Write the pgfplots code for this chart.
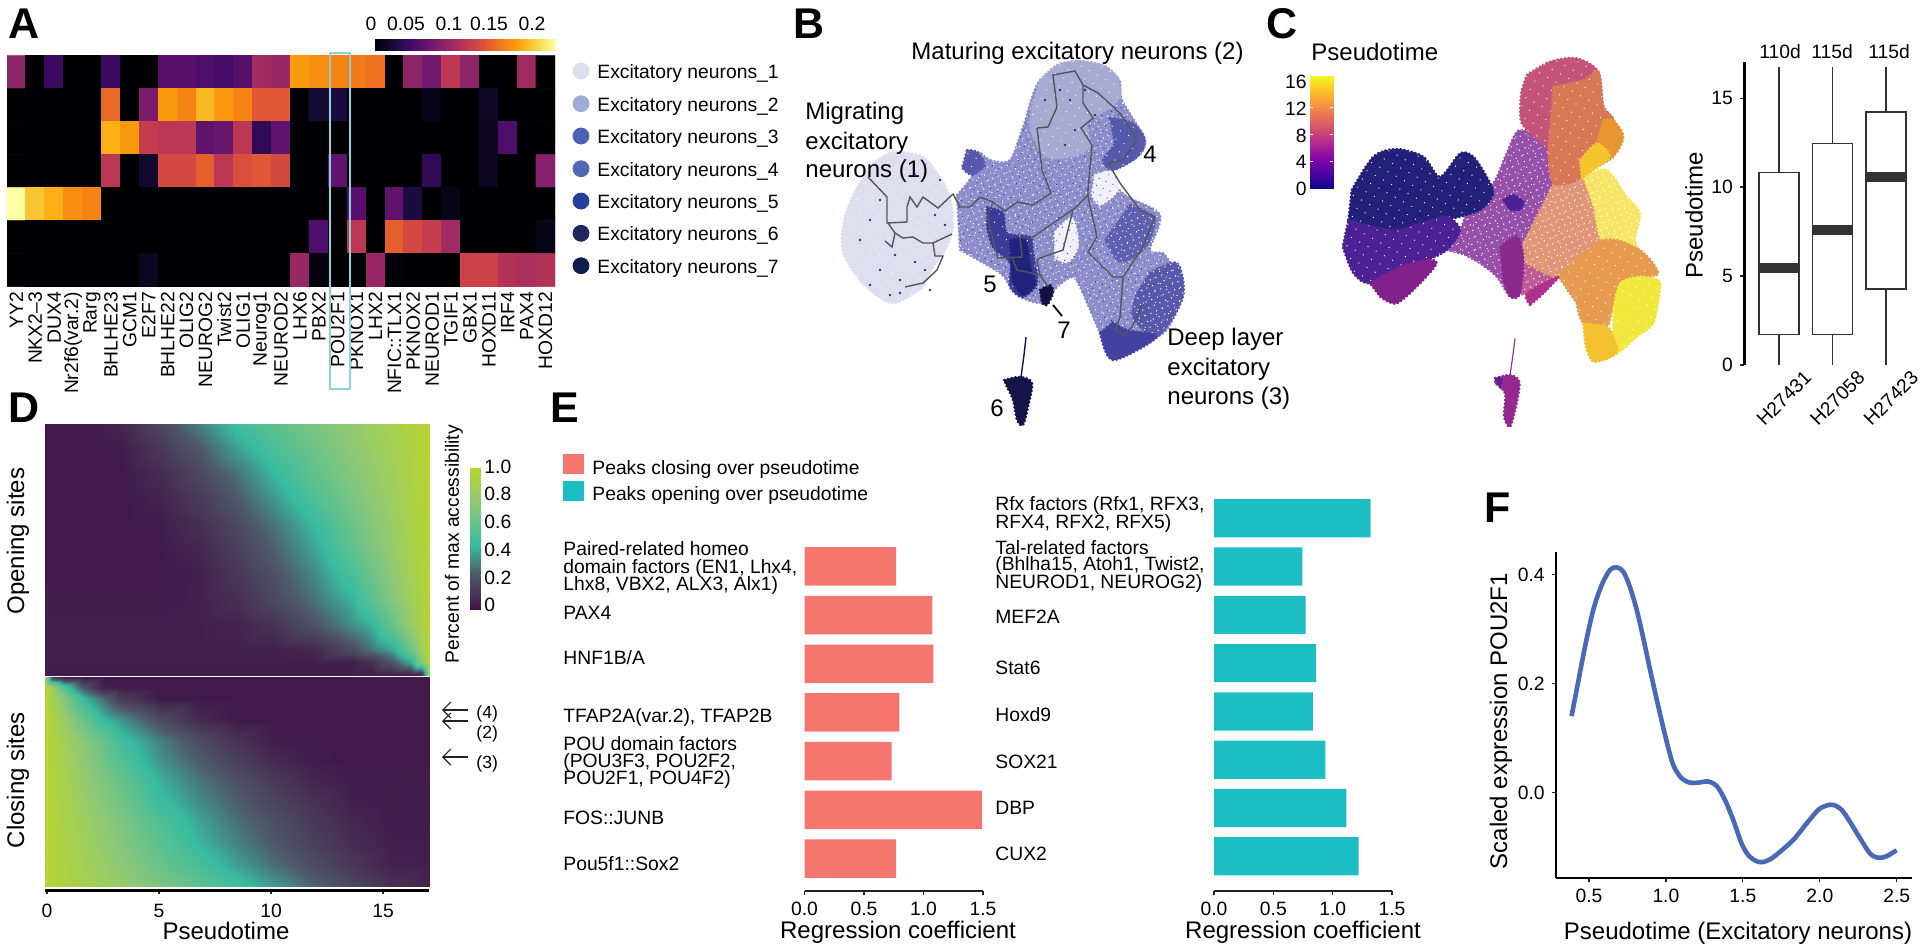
\documentclass[border=0pt]{standalone}
\usepackage{fontspec}
\setmainfont{Liberation Sans}
\usepackage{pgfplots}
\pgfplotsset{compat=1.18}
\usepgfplotslibrary{statistics}
\usetikzlibrary{arrows.meta,patterns.meta}
% 1 px of the reference = 0.5pt
\newcommand{\fS}{\fontsize{9.65}{8.5}\selectfont}
\newcommand{\fL}{\fontsize{12}{14.5}\selectfont}
\newcommand{\fP}{\fontsize{21.5}{21.5}\selectfont\bfseries}
\definecolor{salmon}{HTML}{F4766E}
\definecolor{tealb}{HTML}{1CBEC3}
\definecolor{traj}{HTML}{55555F}
\definecolor{axc}{HTML}{222222}
\definecolor{boxc}{HTML}{333333}
\definecolor{dotb}{HTML}{32328C}
\pgfplotsset{
  colormap={inferno}{rgb255=(0,0,4) rgb255=(22,11,57) rgb255=(66,10,104) rgb255=(106,23,110) rgb255=(147,38,103) rgb255=(188,55,84) rgb255=(221,81,58) rgb255=(243,120,25) rgb255=(252,165,10) rgb255=(246,215,70) rgb255=(252,255,164)},
  colormap={plasma}{rgb255=(13,8,135) rgb255=(65,4,157) rgb255=(106,0,168) rgb255=(143,13,164) rgb255=(177,42,144) rgb255=(204,71,120) rgb255=(225,100,98) rgb255=(241,132,75) rgb255=(252,166,54) rgb255=(252,206,37) rgb255=(240,249,33)},
  colormap={access}{rgb255(0)=(62,20,70) rgb255(10)=(72,50,85) rgb255(25)=(78,90,105) rgb255(45)=(56,187,160) rgb255(75)=(140,200,120) rgb255(100)=(183,212,50)},
  pageaxis/.style={at={(0,0)},anchor=south west,scale only axis,width=960pt,height=475pt,hide axis,clip=false,y dir=reverse},
  box/.style n args={4}{at={(#1*0.5pt,{(950-#4)*0.5pt})},anchor=south west,scale only axis,width={(#3-#1)*0.5pt},height={(#4-#2)*0.5pt}},
  blob/.style={draw={#1},line width=1.2pt,line cap=round,dash pattern=on .4pt off 1.5pt,fill={#1},forget plot,smooth,tension=0.5},
  sw/.style={postaction={draw=none,pattern={Dots[distance=3.1pt,radius=.38pt,angle=23]},pattern color=white},
             postaction={draw=none,pattern={Dots[distance=4.3pt,radius=.32pt,angle=49]},pattern color=white}},
  sl/.style={postaction={draw=none,pattern={Dots[distance=4.7pt,radius=.34pt,angle=61]},pattern color=white}},
  sd/.style={postaction={draw=none,pattern={Dots[distance=3.7pt,radius=.3pt,angle=67]},pattern color=dotb}},
  every tick label/.append style={font=\fS},
  /pgf/number format/assume math mode=true,
}
\newcommand{\T}[4][]{\node[anchor=mid west,inner sep=0pt,yshift=-1.2pt,#1] at (axis cs:#2,#3) {#4};}
\begin{document}
\begin{tikzpicture}
\useasboundingbox (0,0) rectangle (960pt,475pt);

% A heatmap
\begin{axis}[box={7}{55.7}{555}{286.7},colormap name=inferno,point meta min=0,point meta max=0.22,
  y dir=reverse,xmin=-0.5,xmax=28.5,ymin=-0.5,ymax=6.5,ytick=\empty,axis line style={draw=none},
  xtick={0,...,28},major tick length=0pt,xticklabel pos=lower,
  xticklabels={YY2,NKX2–3,DUX4,Nr2f6(var.2),Rarg,BHLHE23,GCM1,E2F7,BHLHE22,OLIG2,NEUROG2,Twist2,OLIG1,Neurog1,NEUROD2,LHX6,PBX2,POU2F1,PKNOX1,LHX2,NFIC::TLX1,PKNOX2,NEUROD1,TGIF1,GBX1,HOXD11,IRF4,PAX4,HOXD12},
  xticklabel style={yshift=-2.5pt,rotate=90,anchor=east,inner sep=0pt,font=\fS}]
\addplot[matrix plot*,mesh/cols=29,point meta=explicit] table[row sep=\\,header=false,x expr={mod(\coordindex,29)},y expr={floor((\coordindex+0.5)/29)},meta index=0]{
.085\\0\\.04\\0\\0\\.04\\0\\0\\.055\\.055\\.05\\.045\\.055\\.095\\.09\\.17\\.165\\.16\\.155\\.15\\0\\.085\\.07\\.11\\.085\\0\\0\\.095\\0\\
0\\0\\0\\0\\0\\.145\\0\\.075\\.17\\.16\\.185\\.17\\.16\\.135\\.135\\0\\.02\\.025\\0\\0\\0\\0\\.008\\0\\0\\.015\\0\\0\\0\\
0\\0\\0\\0\\0\\.18\\.17\\.115\\.11\\.11\\.06\\.065\\.11\\.035\\.06\\0\\0\\0\\0\\0\\0\\0\\0\\0\\0\\.012\\.05\\0\\0\\
0\\0\\0\\0\\0\\.11\\0\\.018\\.125\\.125\\.14\\.11\\.13\\.135\\.125\\0\\0\\.06\\0\\0\\0\\0\\.035\\0\\0\\.012\\0\\0\\.08\\
.22\\.19\\.18\\.165\\.16\\0\\0\\0\\0\\0\\0\\0\\0\\0\\0\\0\\0\\0\\.055\\0\\.06\\.025\\0\\.008\\0\\0\\0\\0\\0\\
0\\0\\0\\0\\0\\0\\0\\0\\0\\0\\0\\0\\0\\0\\0\\0\\.05\\0\\.11\\0\\.14\\.125\\.115\\.095\\0\\0\\0\\0\\.008\\
0\\0\\0\\0\\0\\0\\0\\.012\\0\\0\\0\\0\\0\\0\\0\\.09\\.005\\0\\0\\.09\\.002\\0\\0\\0\\.12\\.12\\.105\\.1\\.105\\
};
\end{axis}
% A colour bar
\begin{axis}[box={375}{39}{555}{50.7},hide axis,colormap name=inferno,xmin=0,xmax=0.22,ymin=0,ymax=1]
\addplot[surf,shader=interp,mesh/cols=2,point meta=explicit] coordinates {(0,0)[0] (0.22,0)[0.22] (0,1)[0] (0.22,1)[0.22]};
\end{axis}

% D opening sites
\begin{axis}[box={45}{424}{429}{675},hide axis,colormap name=access,point meta min=0,point meta max=1,xmin=0,xmax=17,ymin=0,ymax=1,y dir=reverse]
\addplot[surf,shader=interp,mesh/cols=14,point meta=explicit] coordinates {
(0,0)[.02] (1.7,0)[.02] (3.4,0)[.06] (5.1,0)[.18] (6.8,0)[.33] (8.5,0)[.48] (10.2,0)[.585] (11.9,0)[.69] (13.6,0)[.79] (14.45,0)[.845] (15.3,0)[.90] (16.15,0)[.95] (16.66,0)[.98] (17,0)[1]
(0,.1)[.02] (1.7,.1)[.02] (3.4,.1)[.03] (5.1,.1)[.12] (6.8,.1)[.24] (8.5,.1)[.39] (10.2,.1)[.52] (11.9,.1)[.64] (13.6,.1)[.76] (14.45,.1)[.82] (15.3,.1)[.88] (16.15,.1)[.94] (16.66,.1)[.98] (17,.1)[1]
(0,.2)[.02] (1.7,.2)[.02] (3.4,.2)[.02] (5.1,.2)[.075] (6.8,.2)[.18] (8.5,.2)[.30] (10.2,.2)[.45] (11.9,.2)[.59] (13.6,.2)[.725] (14.45,.2)[.79] (15.3,.2)[.86] (16.15,.2)[.93] (16.66,.2)[.97] (17,.2)[1]
(0,.3)[.02] (1.7,.3)[.02] (3.4,.3)[.02] (5.1,.3)[.05] (6.8,.3)[.13] (8.5,.3)[.245] (10.2,.3)[.38] (11.9,.3)[.53] (13.6,.3)[.685] (14.45,.3)[.76] (15.3,.3)[.84] (16.15,.3)[.92] (16.66,.3)[.97] (17,.3)[1]
(0,.4)[.02] (1.7,.4)[.02] (3.4,.4)[.02] (5.1,.4)[.03] (6.8,.4)[.09] (8.5,.4)[.19] (10.2,.4)[.31] (11.9,.4)[.45] (13.6,.4)[.63] (14.45,.4)[.725] (15.3,.4)[.82] (16.15,.4)[.91] (16.66,.4)[.96] (17,.4)[1]
(0,.5)[.02] (1.7,.5)[.02] (3.4,.5)[.02] (5.1,.5)[.025] (6.8,.5)[.06] (8.5,.5)[.15] (10.2,.5)[.265] (11.9,.5)[.40] (13.6,.5)[.585] (14.45,.5)[.69] (15.3,.5)[.79] (16.15,.5)[.90] (16.66,.5)[.96] (17,.5)[1]
(0,.6)[.02] (1.7,.6)[.02] (3.4,.6)[.02] (5.1,.6)[.02] (6.8,.6)[.04] (8.5,.6)[.12] (10.2,.6)[.22] (11.9,.6)[.345] (13.6,.6)[.51] (14.45,.6)[.63] (15.3,.6)[.755] (16.15,.6)[.88] (16.66,.6)[.95] (17,.6)[1]
(0,.7)[.03] (1.7,.7)[.03] (3.4,.7)[.03] (5.1,.7)[.03] (6.8,.7)[.04] (8.5,.7)[.09] (10.2,.7)[.185] (11.9,.7)[.30] (13.6,.7)[.43] (14.45,.7)[.566] (15.3,.7)[.71] (16.15,.7)[.855] (16.66,.7)[.94] (17,.7)[1]
(0,.8)[.04] (1.7,.8)[.04] (3.4,.8)[.04] (5.1,.8)[.04] (6.8,.8)[.04] (8.5,.8)[.05] (10.2,.8)[.105] (11.9,.8)[.22] (13.6,.8)[.36] (14.45,.8)[.43] (15.3,.8)[.61] (16.15,.8)[.80] (16.66,.8)[.92] (17,.8)[1]
(0,.9)[.04] (1.7,.9)[.04] (3.4,.9)[.04] (5.1,.9)[.04] (6.8,.9)[.04] (8.5,.9)[.04] (10.2,.9)[.04] (11.9,.9)[.06] (13.6,.9)[.20] (14.45,.9)[.30] (15.3,.9)[.39] (16.15,.9)[.63] (16.66,.9)[.85] (17,.9)[1]
(0,.95)[.04] (1.7,.95)[.04] (3.4,.95)[.04] (5.1,.95)[.04] (6.8,.95)[.04] (8.5,.95)[.04] (10.2,.95)[.04] (11.9,.95)[.04] (13.6,.95)[.04] (14.45,.95)[.09] (15.3,.95)[.22] (16.15,.95)[.41] (16.66,.95)[.725] (17,.95)[1]
(0,1)[.03] (1.7,1)[.03] (3.4,1)[.03] (5.1,1)[.03] (6.8,1)[.03] (8.5,1)[.03] (10.2,1)[.03] (11.9,1)[.03] (13.6,1)[.03] (14.45,1)[.03] (15.3,1)[.03] (16.15,1)[.03] (16.66,1)[.04] (17,1)[.8]
};
\end{axis}
% D closing sites
\begin{axis}[box={45}{677}{429}{886},hide axis,colormap name=access,point meta min=0,point meta max=1,xmin=0,xmax=17,ymin=0,ymax=1,y dir=reverse]
\addplot[surf,shader=interp,mesh/cols=14,point meta=explicit] coordinates {
(0,0)[.85] (.34,0)[.12] (.85,0)[.03] (1.7,0)[.02] (2.55,0)[.02] (3.4,0)[.02] (5.1,0)[.02] (6.8,0)[.02] (8.5,0)[.02] (10.2,0)[.02] (11.9,0)[.02] (13.6,0)[.02] (15.3,0)[.02] (17,0)[.02]
(0,.05)[1] (.34,.05)[.82] (.85,.05)[.54] (1.7,.05)[.23] (2.55,.05)[.035] (3.4,.05)[.02] (5.1,.05)[.02] (6.8,.05)[.02] (8.5,.05)[.02] (10.2,.05)[.02] (11.9,.05)[.02] (13.6,.05)[.02] (15.3,.05)[.02] (17,.05)[.02]
(0,.1)[1] (.34,.1)[.89] (.85,.1)[.725] (1.7,.1)[.45] (2.55,.1)[.28] (3.4,.1)[.13] (5.1,.1)[.02] (6.8,.1)[.02] (8.5,.1)[.02] (10.2,.1)[.02] (11.9,.1)[.02] (13.6,.1)[.02] (15.3,.1)[.02] (17,.1)[.02]
(0,.2)[1] (.34,.2)[.93] (.85,.2)[.82] (1.7,.2)[.63] (2.55,.2)[.45] (3.4,.2)[.36] (5.1,.2)[.195] (6.8,.2)[.07] (8.5,.2)[.02] (10.2,.2)[.02] (11.9,.2)[.02] (13.6,.2)[.02] (15.3,.2)[.02] (17,.2)[.02]
(0,.3)[1] (.34,.3)[.95] (.85,.3)[.87] (1.7,.3)[.74] (2.55,.3)[.61] (3.4,.3)[.48] (5.1,.3)[.325] (6.8,.3)[.20] (8.5,.3)[.10] (10.2,.3)[.03] (11.9,.3)[.02] (13.6,.3)[.02] (15.3,.3)[.02] (17,.3)[.02]
(0,.4)[1] (.34,.4)[.95] (.85,.4)[.885] (1.7,.4)[.77] (2.55,.4)[.655] (3.4,.4)[.54] (5.1,.4)[.37] (6.8,.4)[.255] (8.5,.4)[.155] (10.2,.4)[.07] (11.9,.4)[.03] (13.6,.4)[.02] (15.3,.4)[.02] (17,.4)[.02]
(0,.5)[1] (.34,.5)[.96] (.85,.5)[.90] (1.7,.5)[.80] (2.55,.5)[.705] (3.4,.5)[.61] (5.1,.5)[.43] (6.8,.5)[.315] (8.5,.5)[.22] (10.2,.5)[.13] (11.9,.5)[.06] (13.6,.5)[.03] (15.3,.5)[.03] (17,.5)[.03]
(0,.6)[1] (.34,.6)[.96] (.85,.6)[.91] (1.7,.6)[.82] (2.55,.6)[.73] (3.4,.6)[.645] (5.1,.6)[.47] (6.8,.6)[.355] (8.5,.6)[.255] (10.2,.6)[.17] (11.9,.6)[.10] (13.6,.6)[.04] (15.3,.6)[.03] (17,.6)[.03]
(0,.7)[1] (.34,.7)[.97] (.85,.7)[.925] (1.7,.7)[.85] (2.55,.7)[.77] (3.4,.7)[.695] (5.1,.7)[.54] (6.8,.7)[.405] (8.5,.7)[.30] (10.2,.7)[.21] (11.9,.7)[.13] (13.6,.7)[.065] (15.3,.7)[.03] (17,.7)[.03]
(0,.8)[1] (.34,.8)[.97] (.85,.8)[.93] (1.7,.8)[.86] (2.55,.8)[.79] (3.4,.8)[.72] (5.1,.8)[.58] (6.8,.8)[.44] (8.5,.8)[.335] (10.2,.8)[.24] (11.9,.8)[.155] (13.6,.8)[.085] (15.3,.8)[.04] (17,.8)[.04]
(0,.9)[1] (.34,.9)[.975] (.85,.9)[.94] (1.7,.9)[.88] (2.55,.9)[.815] (3.4,.9)[.755] (5.1,.9)[.63] (6.8,.9)[.51] (8.5,.9)[.395] (10.2,.9)[.29] (11.9,.9)[.20] (13.6,.9)[.12] (15.3,.9)[.05] (17,.9)[.04]
(0,1)[1] (.34,1)[.98] (.85,1)[.95] (1.7,1)[.90] (2.55,1)[.85] (3.4,1)[.795] (5.1,1)[.695] (6.8,1)[.59] (8.5,1)[.49] (10.2,1)[.38] (11.9,1)[.27] (13.6,1)[.175] (15.3,1)[.095] (17,1)[.05]
};
\end{axis}
% D x axis
\begin{axis}[box={45}{880}{429}{890},xmin=-0.09,xmax=17.05,ymin=0,ymax=1,axis y line=none,axis x line=bottom,
  x axis line style={-,line width=1.5pt,color=black},xtick={0,5,10,15},tick align=outside,major tick length=2pt,
  xtick style={color=axc,line width=.8pt},xticklabel style={yshift=-1.5pt}]
\addplot[draw=none] coordinates {(0,0)(17,1)};
\end{axis}
% D colour bar
\begin{axis}[box={470}{468}{480}{609},hide axis,colormap name=access,xmin=0,xmax=1,ymin=0,ymax=1]
\addplot[surf,shader=interp,mesh/cols=2,point meta=explicit] coordinates {(0,0)[0] (1,0)[0] (0,1)[100] (1,1)[100]};
\end{axis}

% C colour bar
\begin{axis}[box={1310}{76}{1333}{188},hide axis,colormap name=plasma,xmin=0,xmax=1,ymin=0,ymax=16.75]
\addplot[surf,shader=interp,mesh/cols=2,point meta=explicit] coordinates {(0,0)[0] (1,0)[0] (0,16.75)[16.75] (1,16.75)[16.75]};
\addplot[white,line width=.4pt] coordinates {(0,4)(.15,4)};
\addplot[white,line width=.4pt] coordinates {(0,8)(.15,8)};
\addplot[white,line width=.4pt] coordinates {(0,12)(.15,12)};
\addplot[white,line width=.4pt] coordinates {(.85,4)(1,4)};
\addplot[white,line width=.4pt] coordinates {(.85,8)(1,8)};
\addplot[white,line width=.4pt] coordinates {(.85,12)(1,12)};
\end{axis}

% C box plots
\begin{axis}[box={1744}{62}{1913}{365},xmin=0.346,xmax=3.505,ymin=0,ymax=17.05,axis lines=left,
  axis line style={-},x axis line style={draw=none},y axis line style={line width=1.5pt,color=black},
  xtick={1,2,3},xticklabels={H27431,H27058,H27423},xtick style={draw=none},
  xticklabel style={xshift=12pt,yshift=0pt,rotate=45,anchor=north east,inner sep=0pt},
  ytick={0,5,10,15},ytick style={color=axc,line width=.8pt},tick align=outside,major tick length=2pt,
  boxplot/draw direction=y,boxplot/box extend=0.75,boxplot/whisker extend=0,
  boxplot/every median/.style={line width=5pt}]
\addplot[boxc,line width=.85pt,boxplot prepared={lower whisker=0,lower quartile=1.72,median=5.44,upper quartile=10.84,upper whisker=16.78,draw position=1}] coordinates {};
\addplot[boxc,line width=.85pt,boxplot prepared={lower whisker=0,lower quartile=1.72,median=7.6,upper quartile=12.47,upper whisker=16.78,draw position=2}] coordinates {};
\addplot[boxc,line width=.85pt,boxplot prepared={lower whisker=0,lower quartile=4.28,median=10.58,upper quartile=14.23,upper whisker=16.78,draw position=3}] coordinates {};
\end{axis}

% E left bars
\begin{axis}[box={804.5}{540}{983}{891},xmin=0,xmax=1.5,ymin=0.332,ymax=7.544,axis y line=none,axis x line=bottom,
  x axis line style={-,line width=.6pt,color=axc},xtick={0,0.5,1,1.5},tick align=outside,major tick length=2pt,
  xtick style={color=axc,line width=.6pt},xticklabel style={/pgf/number format/fixed,/pgf/number format/fixed zerofill,/pgf/number format/precision=1},
  xbar,bar width=19.25pt,bar shift=0pt]
\addplot[fill=salmon,draw=none] coordinates {(0.77,7)(1.075,6)(1.083,5)(0.798,4)(0.731,3)(1.49,2)(0.77,1)};
\end{axis}
% E right bars
\begin{axis}[box={1214}{490}{1392}{891},xmin=0,xmax=1.5,ymin=0.2805,ymax=8.586,axis y line=none,axis x line=bottom,
  x axis line style={-,line width=.6pt,color=axc},xtick={0,0.5,1,1.5},tick align=outside,major tick length=2pt,
  xtick style={color=axc,line width=.6pt},xticklabel style={/pgf/number format/fixed,/pgf/number format/fixed zerofill,/pgf/number format/precision=1},
  xbar,bar width=19.1pt,bar shift=0pt]
\addplot[fill=tealb,draw=none] coordinates {(1.32,8)(0.744,7)(0.772,6)(0.86,5)(0.834,4)(0.938,3)(1.115,2)(1.218,1)};
\end{axis}

% F curve
\begin{axis}[box={1555.7}{552}{1912}{878},xmin=0.284,xmax=2.599,ymin=-0.157,ymax=0.441,axis lines=left,
  axis line style={-,line width=.9pt,color=black},xtick={0.5,1,1.5,2,2.5},ytick={0,0.2,0.4},
  tick align=outside,major tick length=2pt,tick style={color=axc,line width=.6pt},
  xticklabel style={/pgf/number format/fixed,/pgf/number format/fixed zerofill,/pgf/number format/precision=1},
  yticklabel style={/pgf/number format/fixed,/pgf/number format/fixed zerofill,/pgf/number format/precision=1}]
\addplot[smooth,line width=2.3pt,color={rgb,255:red,74;green,105;blue,181}] coordinates {
(.387,.14)(.42,.188)(.474,.267)(.528,.335)(.582,.38)(.636,.408)(.68,.413)(.723,.405)(.766,.377)(.81,.335)(.853,.283)(.907,.212)(.961,.145)(1.005,.093)(1.048,.05)(1.102,.026)(1.156,.018)(1.21,.018)(1.275,.02)(1.33,.012)(1.384,-.014)(1.438,-.051)(1.492,-.094)(1.535,-.115)(1.579,-.125)(1.622,-.128)(1.676,-.123)(1.741,-.109)(1.828,-.087)(1.914,-.057)(1.99,-.032)(2.044,-.024)(2.088,-.023)(2.142,-.032)(2.196,-.054)(2.261,-.084)(2.326,-.112)(2.38,-.12)(2.434,-.117)(2.499,-.106)};
\end{axis}

% B umap and every piece of text, in reference pixels
\begin{axis}[pageaxis,xmin=0,xmax=1920,ymin=0,ymax=950]
% sparse middle cloud
\addplot[blob={rgb,255:red,142;green,142;blue,204},sw,sd] coordinates {(957,195)(975,172)(978,152)(990,160)(1010,160)(1023,127)(1040,80)(1077,61)(1117,77)(1122,100)(1145,140)(1137,157)(1113,170)(1103,172)(1125,195)(1160,215)(1150,250)(1165,255)(1183,290)(1170,325)(1157,337)(1113,360)(1100,333)(1080,287)(1072,277)(1057,287)(1043,303)(1020,297)(1010,287)(1000,273)(960,250)} --cycle;
% 1
\addplot[blob={rgb,255:red,222;green,223;blue,238},sl] coordinates {(873,163)(893,152)(923,157)(940,177)(950,197)(953,227)(947,247)(933,267)(923,287)(903,300)(890,303)(873,293)(857,277)(843,253)(842,233)(847,210)(857,187)} --cycle;
% 2
\addplot[blob={rgb,255:red,168;green,170;blue,210},sl] coordinates {(1040,80)(1057,65)(1077,61)(1103,65)(1117,77)(1120,97)(1107,110)(1087,123)(1090,147)(1070,157)(1047,157)(1033,137)(1030,120)(1035,97)} --cycle;
% 4
\addplot[blob={rgb,255:red,86;green,90;blue,172},sl] coordinates {(1110,118)(1133,123)(1145,140)(1137,157)(1113,170)(1103,160)(1115,145)} --cycle;
% deep layer
\addplot[blob={rgb,255:red,88;green,88;blue,172},sw] coordinates {(1150,273)(1177,263)(1183,297)(1157,337)(1133,317)(1137,293)} --cycle;
\addplot[blob={rgb,255:red,68;green,66;blue,160}] coordinates {(1100,333)(1113,360)(1157,337)(1127,330)(1113,322)} --cycle;
\addplot[blob={rgb,255:red,96;green,96;blue,178},sw] coordinates {(1130,205)(1155,218)(1145,248)(1120,262)(1105,240)} --cycle;
% 5
\addplot[blob={rgb,255:red,60;green,60;blue,152},sl] coordinates {(987,207)(1003,213)(1007,233)(1030,237)(1033,253)(1037,283)(1023,297)(1010,287)(1010,263)(993,247)(987,227)} --cycle;
\addplot[blob={rgb,255:red,88;green,88;blue,172},sl] coordinates {(967,150)(977,152)(985,165)(972,175)(962,168)} --cycle;
\addplot[blob={rgb,255:red,34;green,34;blue,124}] coordinates {(1010,240)(1025,240)(1030,265)(1035,285)(1022,295)(1012,280)} --cycle;
% white gaps
\addplot[blob={rgb,255:red,240;green,240;blue,250},sd] coordinates {(1055,232)(1072,218)(1078,245)(1068,262)(1055,258)} --cycle;
\addplot[blob={rgb,255:red,240;green,240;blue,250},sd] coordinates {(1095,175)(1112,172)(1118,190)(1100,205)(1092,195)} --cycle;
% 7 and 6
\addplot[blob={rgb,255:red,18;green,18;blue,64}] coordinates {(1040,290)(1050,285)(1053,293)(1047,305)(1042,303)} --cycle;
\addplot[blob={rgb,255:red,21;green,21;blue,74}] coordinates {(1004,380)(1020,377)(1032,383)(1028,407)(1023,425)(1017,420)(1013,400)(1007,387)} --cycle;
\addplot[color={rgb,255:red,21;green,21;blue,74},line width=.7pt,forget plot] coordinates {(1026,337)(1024,355)(1021,377)};
% speckle
\addplot[only marks,mark=*,mark size=.45pt,color=dotb,forget plot] coordinates {
(870,220)(880,270)(900,280)(925,270)(935,215)(915,175)(905,160)(925,165)(860,240)(895,255)(915,262)(880,200)(945,225)(930,290)(900,293)(890,295)(870,285)(940,180)
(1070,100)(1085,90)(1045,100)(1060,90)(1095,115)(1075,130)(1065,145)};
% trajectory
\addplot[traj,line width=.7pt,forget plot] coordinates {(868,177)(887,197)(887,223)(907,222)(907,207)(910,197)(917,207)(923,197)(938,208)(953,194)(960,207)(970,207)(980,197)(993,202)(1005,211)(1017,202)(1033,205)(1051,193)(1042,170)(1040,153)(1037,128)(1048,127)(1057,107)(1053,75)(1075,71)(1083,85)(1098,93)(1120,113)(1137,140)(1123,160)(1108,163)(1120,183)(1140,210)(1155,217)(1143,247)(1123,277)(1120,317)(1115,330)(1123,335)(1132,327)(1142,305)};
\addplot[traj,line width=.7pt,forget plot] coordinates {(1083,85)(1083,103)(1093,118)(1081,128)(1092,145)(1088,190)(1088,197)(1097,237)(1088,252)(1113,277)(1123,277)};
\addplot[traj,line width=.7pt,forget plot] coordinates {(1088,195)(1075,208)(1033,237)(1020,237)(1022,257)(998,258)(993,240)(987,217)(993,202)};
\addplot[traj,line width=.7pt,forget plot] coordinates {(1073,210)(1063,250)(1040,258)(1037,260)(1040,275)(1048,287)};
\addplot[traj,line width=.7pt,forget plot] coordinates {(1012,257)(1017,270)(1040,275)};
\addplot[traj,line width=.7pt,forget plot] coordinates {(888,223)(895,233)(903,238)(913,237)(923,243)(933,243)(952,234)};
\addplot[traj,line width=.7pt,forget plot] coordinates {(895,233)(892,247)(885,241)};
\addplot[traj,line width=.7pt,forget plot] coordinates {(933,243)(935,256)(943,256)(937,270)(923,283)(905,287)};
\addplot[black,line width=.9pt,forget plot] coordinates {(1053,305)(1062,316)};

% A legend dots
\addplot[only marks,mark=*,mark size=4pt,color={rgb,255:red,220;green,223;blue,240},forget plot] coordinates {(581,71)};
\addplot[only marks,mark=*,mark size=4pt,color={rgb,255:red,160;green,172;blue,216},forget plot] coordinates {(581,103.7)};
\addplot[only marks,mark=*,mark size=4pt,color={rgb,255:red,75;green,98;blue,180},forget plot] coordinates {(581,136)};
\addplot[only marks,mark=*,mark size=4pt,color={rgb,255:red,80;green,104;blue,180},forget plot] coordinates {(581,168.7)};
\addplot[only marks,mark=*,mark size=4pt,color={rgb,255:red,36;green,64;blue,156},forget plot] coordinates {(581,201)};
\addplot[only marks,mark=*,mark size=4pt,color={rgb,255:red,30;green,38;blue,96},forget plot] coordinates {(581,233.3)};
\addplot[only marks,mark=*,mark size=4pt,color={rgb,255:red,17;green,28;blue,76},forget plot] coordinates {(581,265.7)};
% POU2F1 frame
\addplot[draw={rgb,255:red,140;green,211;blue,216},line width=1pt,forget plot] coordinates {(330,52.7)(350,52.7)(350,389)(330,389)} --cycle;
% E legend
\addplot[fill=salmon,draw=none,forget plot] coordinates {(563,454.3)(584,454.3)(584,474.3)(563,474.3)} --cycle;
\addplot[fill=tealb,draw=none,forget plot] coordinates {(563,480.7)(584,480.7)(584,501)(563,501)} --cycle;
% D arrows
\addplot[-{Straight Barb[length=4pt]},line width=.6pt,axc,forget plot] coordinates {(468,710)(442,710)};
\addplot[-{Straight Barb[length=4pt]},line width=.6pt,axc,forget plot] coordinates {(468,721)(442,721)};
\addplot[-{Straight Barb[length=4pt]},line width=.6pt,axc,forget plot] coordinates {(468,757)(442,757)};

% panel letters
\T{8}{31}{\fP A}
\T{793}{31}{\fP B}
\T{1266}{31}{\fP C}
\T{8}{415}{\fP D}
\T{550}{415}{\fP E}
\T{1484}{515}{\fP F}
% A text
\node[inner sep=0pt,font=\fS] at (axis cs:371,24) {0};
\node[inner sep=0pt,font=\fS] at (axis cs:406,24) {0.05};
\node[inner sep=0pt,font=\fS] at (axis cs:449,24) {0.1};
\node[inner sep=0pt,font=\fS] at (axis cs:489,24) {0.15};
\node[inner sep=0pt,font=\fS] at (axis cs:532,24) {0.2};
\T{597}{71}{\fS Excitatory neurons\_1}
\T{597}{103.7}{\fS Excitatory neurons\_2}
\T{597}{136}{\fS Excitatory neurons\_3}
\T{597}{168.7}{\fS Excitatory neurons\_4}
\T{597}{201}{\fS Excitatory neurons\_5}
\T{597}{233.3}{\fS Excitatory neurons\_6}
\T{597}{265.7}{\fS Excitatory neurons\_7}
% B text
\T{911}{52}{\fL Maturing excitatory neurons (2)}
\T{805}{112}{\fL Migrating}
\T{805}{142}{\fL excitatory}
\T{805}{170}{\fL neurons (1)}
\T{1167}{338}{\fL Deep layer}
\T{1167}{368}{\fL excitatory}
\T{1167}{397}{\fL neurons (3)}
\node[inner sep=0pt,font=\fL] at (axis cs:1150,154) {4};
\node[inner sep=0pt,font=\fL] at (axis cs:990,284) {5};
\node[inner sep=0pt,font=\fL] at (axis cs:1064,330) {7};
\node[inner sep=0pt,font=\fL] at (axis cs:997,408) {6};
% C text
\T{1311}{53}{\fL Pseudotime}
\node[anchor=mid east,inner sep=0pt,font=\fS,yshift=-1pt] at (axis cs:1307,81) {16};
\node[anchor=mid east,inner sep=0pt,font=\fS,yshift=-1pt] at (axis cs:1307,108) {12};
\node[anchor=mid east,inner sep=0pt,font=\fS,yshift=-1pt] at (axis cs:1307,135) {8};
\node[anchor=mid east,inner sep=0pt,font=\fS,yshift=-1pt] at (axis cs:1307,161) {4};
\node[anchor=mid east,inner sep=0pt,font=\fS,yshift=-1pt] at (axis cs:1307,188) {0};
\node[inner sep=0pt,font=\fS] at (axis cs:1780,52) {110d};
\node[inner sep=0pt,font=\fS] at (axis cs:1832,52) {115d};
\node[inner sep=0pt,font=\fS] at (axis cs:1889,52) {115d};
\node[rotate=90,inner sep=0pt,font=\fL] at (axis cs:1694,215) {Pseudotime};
% D text
\node[rotate=90,inner sep=0pt,font=\fL] at (axis cs:18,541) {Opening sites};
\node[rotate=90,inner sep=0pt,font=\fL] at (axis cs:18,780) {Closing sites};
\node[inner sep=0pt,font=\fL] at (axis cs:226,931) {Pseudotime};
\node[rotate=90,inner sep=0pt,font=\fS] at (axis cs:454,544) {Percent of max accessibility};
\T{484}{466}{\fS 1.0}
\T{484}{493}{\fS 0.8}
\T{484}{521}{\fS 0.6}
\T{484}{549}{\fS 0.4}
\T{484}{577}{\fS 0.2}
\T{484}{604}{\fS 0}
\T{476}{711}{\fontsize{8.8}{10}\selectfont (4)}
\T{476}{731}{\fontsize{8.8}{10}\selectfont (2)}
\T{476}{761}{\fontsize{8.8}{10}\selectfont (3)}
% E text
\T{592}{467}{\fS Peaks closing over pseudotime}
\T{592}{493}{\fS Peaks opening over pseudotime}
\T{563}{548}{\fS Paired-related homeo}
\T{563}{566}{\fS domain factors (EN1, Lhx4,}
\T{563}{583}{\fS Lhx8, VBX2, ALX3, Alx1)}
\T{563}{612}{\fS PAX4}
\T{563}{657}{\fS HNF1B/A}
\T{563}{715}{\fS TFAP2A(var.2), TFAP2B}
\T{563}{743}{\fS POU domain factors}
\T{563}{760}{\fS (POU3F3, POU2F2,}
\T{563}{777}{\fS POU2F1, POU4F2)}
\T{563}{817}{\fS FOS::JUNB}
\T{563}{863}{\fS Pou5f1::Sox2}
\T{995}{503}{\fS Rfx factors (Rfx1, RFX3,}
\T{995}{521}{\fS RFX4, RFX2, RFX5)}
\T{995}{547}{\fS Tal-related factors}
\T{995}{563}{\fS (Bhlha15, Atoh1, Twist2,}
\T{995}{581}{\fS NEUROD1, NEUROG2)}
\T{995}{616}{\fS MEF2A}
\T{995}{667}{\fS Stat6}
\T{995}{714}{\fS Hoxd9}
\T{995}{761}{\fS SOX21}
\T{995}{807}{\fS DBP}
\T{995}{853}{\fS CUX2}
\node[inner sep=0pt,font=\fL] at (axis cs:898,932) {Regression coefficient};
\node[inner sep=0pt,font=\fL] at (axis cs:1303,932) {Regression coefficient};
% F text
\node[inner sep=0pt,font=\fL] at (axis cs:1738,933) {Pseudotime (Excitatory neurons)};
\node[rotate=90,inner sep=0pt,font=\fL] at (axis cs:1501,721) {Scaled expression POU2F1};
\end{axis}

% C umap, coordinates in a 3x reference grid
\begin{axis}[pageaxis,xmin=-3960,xmax=1800,ymin=-150,ymax=2700]
\addplot[blob={rgb,255:red,150;green,80;blue,170},sw] coordinates {(380,600)(420,540)(450,470)(520,400)(560,310)(600,240)(690,290)(700,420)(620,560)(590,620)(600,730)(570,740)(530,680)(480,640)(430,612)} --cycle;
\addplot[blob={rgb,255:red,190;green,90;blue,150},sw] coordinates {(590,620)(620,640)(715,680)(620,730)(600,730)} --cycle;
\addplot[blob={rgb,255:red,226;green,150;blue,120},sw] coordinates {(700,400)(785,385)(820,430)(850,560)(820,620)(715,680)(620,640)(590,620)(620,560)} --cycle;
\addplot[blob={rgb,255:red,246;green,228;blue,100},sw] coordinates {(790,380)(860,360)(920,440)(960,490)(945,570)(960,620)(850,580)(825,480)} --cycle;
\addplot[blob={rgb,255:red,230;green,155;blue,80},sl] coordinates {(715,680)(850,570)(960,600)(1015,670)(960,690)(880,780)(860,830)(790,820)(770,760)} --cycle;
\addplot[blob={rgb,255:red,196;green,84;blue,120},sl] coordinates {(620,75)(690,35)(770,25)(835,65)(850,170)(880,210)(850,280)(785,380)(700,400)(685,300)(605,220)(605,120)} --cycle;
\addplot[blob={rgb,255:red,216;green,120;blue,84},sl] coordinates {(700,110)(790,90)(835,65)(850,170)(880,210)(850,280)(785,380)(700,400)(685,300)} --cycle;
\addplot[blob={rgb,255:red,232;green,150;blue,50}] coordinates {(850,210)(880,210)(910,260)(880,320)(820,350)(830,280)} --cycle;
\addplot[blob={rgb,255:red,245;green,197;blue,48}] coordinates {(780,330)(830,280)(870,320)(820,360)(785,385)} --cycle;
\addplot[blob={rgb,255:red,240;green,232;blue,58},sl] coordinates {(880,780)(900,700)(960,680)(1015,690)(1020,720)(1000,820)(950,860)(890,910)(880,860)} --cycle;
\addplot[blob={rgb,255:red,244;green,194;blue,48}] coordinates {(790,820)(860,830)(880,860)(890,910)(820,935)(795,880)} --cycle;
\addplot[blob={rgb,255:red,36;green,32;blue,122},sl] coordinates {(95,420)(160,320)(230,297)(310,320)(360,380)(420,310)(460,320)(500,380)(520,430)(480,480)(380,510)(300,520)(230,540)(160,530)(85,510)} --cycle;
\addplot[blob={rgb,255:red,75;green,33;blue,149},sl] coordinates {(85,510)(160,530)(230,540)(300,520)(380,500)(420,540)(380,600)(320,630)(240,650)(150,700)(100,670)(68,590)} --cycle;
\addplot[blob={rgb,255:red,130;green,32;blue,140}] coordinates {(150,700)(240,650)(320,630)(350,640)(300,700)(230,760)(180,740)} --cycle;
\addplot[blob={rgb,255:red,75;green,33;blue,149}] coordinates {(550,450)(580,435)(610,455)(600,480)(570,480)} --cycle;
\addplot[blob={rgb,255:red,138;green,42;blue,140}] coordinates {(540,590)(590,560)(610,620)(600,730)(570,740)(550,690)} --cycle;
\addplot[blob={rgb,255:red,176;green,48;blue,138}] coordinates {(630,765)(620,730)(715,680)(660,740)} --cycle;
\addplot[blob={rgb,255:red,149;green,40;blue,143}] coordinates {(525,985)(570,975)(598,995)(590,1060)(570,1130)(552,1100)(555,1030)(525,1000)} --cycle;
\addplot[blob={rgb,255:red,90;green,31;blue,144}] coordinates {(525,985)(545,985)(540,1010)} --cycle;
\addplot[color={rgb,255:red,160;green,50;blue,150},line width=.6pt,forget plot] coordinates {(585,865)(578,920)(570,975)};
\end{axis}
\end{tikzpicture}
\end{document}
